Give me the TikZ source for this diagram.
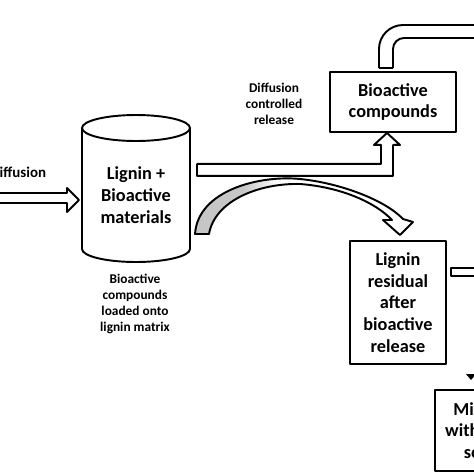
\documentclass[tikz,border=0pt]{standalone}
\usepackage{fontspec}
\setmainfont{Carlito}
\usetikzlibrary{arrows.meta, positioning, calc}
\pgfdeclarehorizontalshading{tailfade}{100bp}{color(0bp)=(gray!45); color(36bp)=(gray!45);
  color(44bp)=(white); color(100bp)=(white)}

\begin{document}
\begin{tikzpicture}[x=0.02cm, y=-0.02cm, line width=1.1pt, line join=round,
  lbl/.style={font=\bfseries\fontsize{10.4}{12.4}\selectfont, align=center, inner sep=0pt},
  note/.style={font=\bfseries\fontsize{7.6}{9.1}\selectfont, align=center, inner sep=0pt},
  stage/.style={draw, lbl}]
  \useasboundingbox (0,0) rectangle (474,474);
  \clip (0,0) rectangle (474,474);

  % Cylinder holding the loaded lignin
  \draw (82,128) -- (82,249) arc[start angle=180, end angle=0, x radius=54, y radius=13]
    -- (190,128);
  \draw (136,128) ellipse [x radius=54, y radius=13];
  \node[lbl] (cyl) at (136,195) {Lignin +\\Bioactive\\materials};
  \node[note] (loaded) at (135,304) {Bioactive\\compounds\\loaded onto\\lignin matrix};

  % Stages
  \node[stage, minimum width=2.52cm, minimum height=1.2cm] (comp) at (393,102)
    {Bioactive\\compounds};
  \node[stage, minimum width=1.92cm, minimum height=2.46cm] (resid) at (398,302.5)
    {Lignin\\residual\\after\\bioactive\\release};
  \node[stage, minimum width=1.68cm, minimum height=1.62cm] (mix) at (477,430.5)
    {Mixed\\with the\\soil};

  % Labels
  \node[note, font=\bfseries\fontsize{8.5}{10.2}\selectfont, anchor=east] (diff) at (47,172)
    {Diffusion};
  \node[note] (ctrl) at (274,104) {Diffusion\\controlled\\release};

  % Feed arrow into the cylinder
  \coordinate (tipL) at (79,200);
  \draw (tipL) -- ++(-12,-12) -- ++(0,5) -- ++(-95,0) -- ++(0,10) -- ++(95,0)
    -- ++(0,9) -- cycle;

  % Release arrow up to the compounds box
  \coordinate (tipC) at ([xshift=-0.12cm]comp.south);
  \draw (tipC) -- ++(13,12) -- ++(-7,0) -- ++(0,31) -- ++(-196,0) -- ++(0,-12)
    -- ++(184,0) -- ++(0,-19) -- ++(-7,0) -- cycle;

  % Pipe leaving the compounds box
  \draw[rounded corners=0.48cm] (490,25) -- (379,25) -- (379,68);
  \draw (379,68) -- (393,68);
  \draw[rounded corners=0.22cm] (393,68) -- (393,38) -- (490,38);

  % Curved arrow to the residue
  \draw[shading=tailfade]
    (195,234) .. controls (198,190) and (260,175) .. (300,179)
    .. controls (340,183) and (385,200) .. (403,219)
    -- (413,222) -- (400,235) -- (383,220) -- (392,220)
    .. controls (375,202) and (340,187) .. (300,184)
    .. controls (260,183) and (215,200) .. (209,234) -- cycle;

  % Stub leaving the residue box
  \draw (490,268) -- ([xshift=0.08cm]resid.east |- 0,268) -- ++(0,8) -- (490,276);

  % Arrow tip into the mixing box
  \coordinate (tipM) at (471,380);
  \fill (tipM) -- ++(-5,-6) -- ++(10,0) -- cycle;
\end{tikzpicture}
\end{document}
